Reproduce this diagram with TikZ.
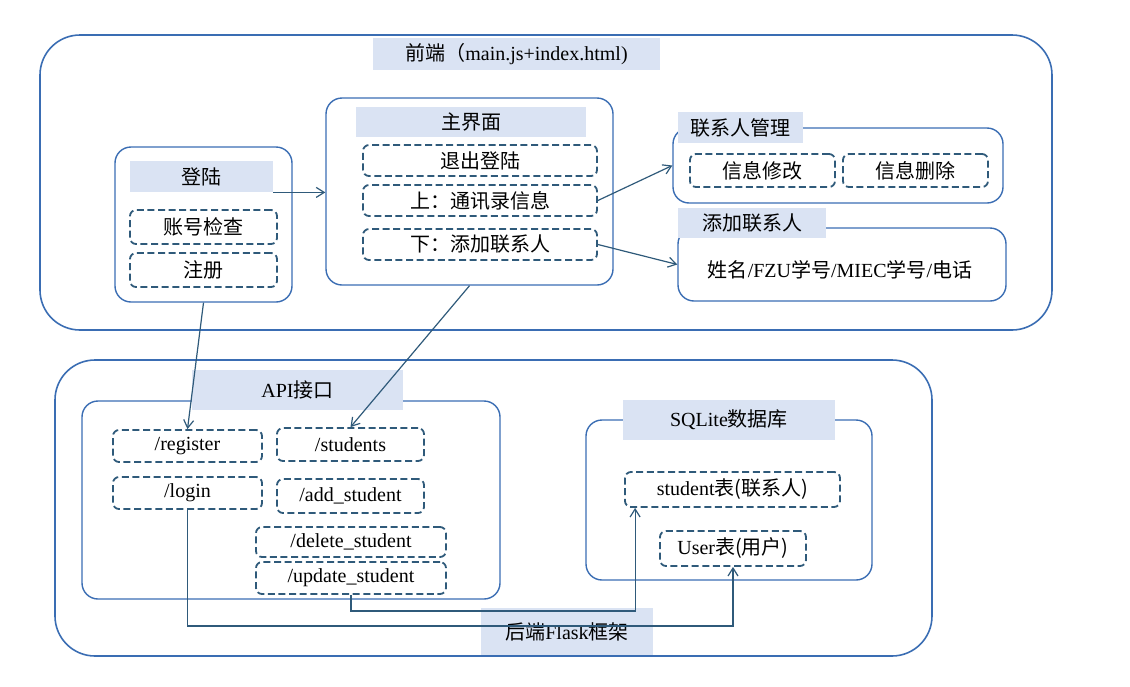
\documentclass[tikz,border=0pt]{standalone}
\usepackage{fontspec}
\setmainfont{Liberation Serif}
\newfontfamily\cjk{Noto Sans CJK SC}
\newcommand{\zh}[1]{{\cjk #1}}
\usetikzlibrary{arrows.meta,positioning,calc}
\definecolor{bdr}{HTML}{3A6DB3}
\definecolor{dsh}{HTML}{2F5A7A}
\definecolor{ttlfill}{HTML}{DAE3F3}
\begin{document}
\begin{tikzpicture}[x=0.5pt,y=-0.5pt,font=\fontsize{10}{12}\selectfont,
  arr/.style={-{Straight Barb[length=4pt,width=5pt]},draw=dsh,semithick}]
  \tikzstyle{outer}=[draw=bdr,line width=0.8pt,rounded corners=20pt,inner sep=0pt]
  \tikzstyle{box}=[draw=bdr,line width=0.7pt,rounded corners=8pt,inner sep=0pt]
  \tikzstyle{ttl}=[fill=ttlfill,inner sep=0pt]
  \tikzstyle{dbox}=[draw=dsh,line width=0.9pt,dash pattern=on 3.5pt off 1.8pt,rounded corners=3pt,inner sep=0pt]
  \useasboundingbox (0,0) rectangle (1130,686);
  % front end
  \node[outer,minimum width=506pt,minimum height=147.5pt] (fe) at (546,182.5) {};
  \node[ttl,minimum width=143.5pt,minimum height=16pt] (feT) at (516.5,54) {\zh{前端（}main.js+index.html)};
  \node[box,minimum width=88.5pt,minimum height=77.5pt] (login) at (203.5,224.5) {};
  \node[ttl,minimum width=71.5pt,minimum height=15.5pt] (loginT) at (201.5,176.5) {\zh{登陆}};
  \node[dbox,minimum width=73.5pt,minimum height=17pt] (chk) at (203.5,227) {\zh{账号检查}};
  \node[dbox,minimum width=73.5pt,minimum height=17pt] (reg) at (203.5,270) {\zh{注册}};
  \node[box,minimum width=143.5pt,minimum height=93.5pt] (main) at (469.5,191.5) {};
  \node[ttl,minimum width=115pt,minimum height=15pt] (mainT) at (471,122) {\zh{主界面}};
  \node[dbox,minimum width=117pt,minimum height=15.5pt] (quit) at (480,160.5) {\zh{退出登陆}};
  \node[dbox,minimum width=117pt,minimum height=15.5pt] (up) at (480,200.5) {\zh{上：通讯录信息}};
  \node[dbox,minimum width=117pt,minimum height=15.5pt] (down) at (480,244.5) {\zh{下：添加联系人}};
  \node[box,minimum width=165pt,minimum height=37.5pt] (mgr) at (838,165.5) {};
  \node[ttl,minimum width=62.5pt,minimum height=15.5pt] (mgrT) at (740.5,127.5) {\zh{联系人管理}};
  \node[dbox,minimum width=72.5pt,minimum height=16.5pt] (edit) at (762.5,170.5) {\zh{信息修改}};
  \node[dbox,minimum width=72.5pt,minimum height=16.5pt] (del) at (915.5,170.5) {\zh{信息删除}};
  \node[box,minimum width=164pt,minimum height=36.5pt] (add) at (842,264.5) {};
  \node[ttl,minimum width=74pt,minimum height=15pt] (addT) at (752,223) {\zh{添加联系人}};
  \node (fields) at (840,270) {\zh{姓名}/FZU\zh{学号}/MIEC\zh{学号}/\zh{电话}};
  % back end
  \node[outer,minimum width=438.5pt,minimum height=148pt] (be) at (493.5,508) {};
  \node[box,minimum width=209pt,minimum height=99pt] (api) at (291,500) {};
  \node[ttl,minimum width=105.5pt,minimum height=20pt] (apiT) at (297.5,390) {API\zh{接口}};
  \node[dbox,minimum width=74.5pt,minimum height=16pt] (register) at (187.5,446) {/register};
  \node[dbox,minimum width=73.5pt,minimum height=16.5pt] (students) at (350.5,444.5) {/students};
  \node[dbox,minimum width=74.5pt,minimum height=16pt] (loginapi) at (187.5,493) {/login};
  \node[dbox,minimum width=73.5pt,minimum height=17pt] (addst) at (350.5,496) {/add\_student};
  \node[dbox,minimum width=95pt,minimum height=15pt] (delst) at (351,542) {/delete\_student};
  \node[dbox,minimum width=95pt,minimum height=16pt] (updst) at (351,578) {/update\_student};
  \node[box,minimum width=143pt,minimum height=80pt] (db) at (729,500) {};
  \node[ttl,minimum width=106pt,minimum height=20pt] (dbT) at (729,420) {SQLite\zh{数据库}};
  \node[dbox,minimum width=107.5pt,minimum height=17.5pt] (stu) at (732.5,489.5) {student\zh{表(联系人)}};
  \node[dbox,minimum width=73pt,minimum height=17.5pt] (usr) at (733,548.5) {User\zh{表(用户)}};
  \node[ttl,minimum width=86pt,minimum height=23.5pt] (beT) at (567,631.5) {\zh{后端}Flask\zh{框架}};
  % connectors
  \draw[arr] (loginT.south east) -- (loginT.south east -| main.west);
  \draw[arr] (up.east) -- (mgr.west);
  \draw[arr] (down.east) -- (add.west);
  \draw[arr] (login.south) -- (register.north);
  \draw[arr] (main.south) -- (students.north);
  \draw[arr] (loginapi.south) -- ++(0,116) -| (usr.south);
  \draw[arr] (updst.south) -- ++(0,16) -| ($(stu.south west)+(11,0)$);
\end{tikzpicture}
\end{document}
